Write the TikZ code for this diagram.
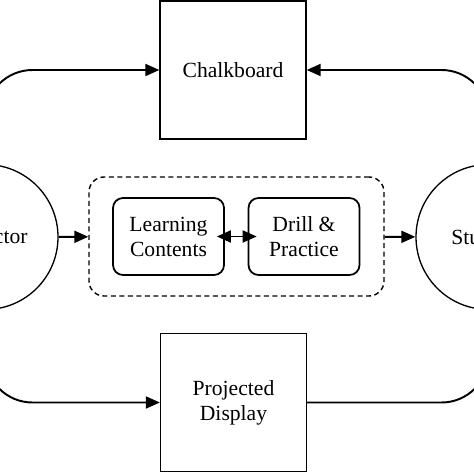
\documentclass[tikz,border=0pt]{standalone}
\usepackage{fontspec}
\setmainfont{Liberation Serif}
\usetikzlibrary{arrows.meta}

\tikzset{
  board/.style={draw, line width=0.75pt, minimum width=2.92cm, minimum height=2.76cm, align=center, inner sep=0pt},
  agent/.style={draw, circle, line width=0.75pt, minimum size=2.9cm, inner sep=0pt},
  module/.style={draw, rounded corners=0.2cm, line width=1pt, minimum width=2.22cm, minimum height=1.54cm, align=center, inner sep=0pt},
  group/.style={draw, dash pattern=on 0.1cm off 0.07cm, rounded corners=0.3cm, line width=0.8pt, minimum width=5.9cm, minimum height=2.38cm},
  tip/.tip={Triangle[length=0.28cm, width=0.24cm]},
  flow/.style={-tip, line width=1.1pt},
}

\begin{document}
\begin{tikzpicture}[font=\fontsize{12.3}{14.2}\selectfont]
  \useasboundingbox (0,0) rectangle (9.48,-9.48);
  \node[board] (chalk) at (4.66,-1.4) {Chalkboard};
  \node[board] (proj) at (4.67,-8.05) {Projected\\Display};
  \node[agent] (instr) at (-0.29,-4.74) {Instructor};
  \node[agent] (stud) at (9.77,-4.74) {Students};
  \node[group] (media) at (4.73,-4.73) {};
  \node[module] (learn) at (3.37,-4.73) {Learning\\Contents};
  \node[module] (drill) at (6.08,-4.73) {Drill \&\\Practice};
  \draw[flow] (instr) -- (media);
  \draw[flow] (media) -- (stud);
  \draw[tip-tip, line width=1.1pt, shorten <=-0.16cm, shorten >=-0.18cm] (learn) -- (drill);
  \draw[flow, rounded corners=0.94cm] (instr.north) |- (chalk.west);
  \draw[flow, rounded corners=0.94cm] (stud.north) |- (chalk.east);
  \draw[flow, rounded corners=0.94cm] (instr.south) |- (proj.west);
  \draw[flow, rounded corners=0.94cm] (proj.east) -| (stud.south);
\end{tikzpicture}
\end{document}
